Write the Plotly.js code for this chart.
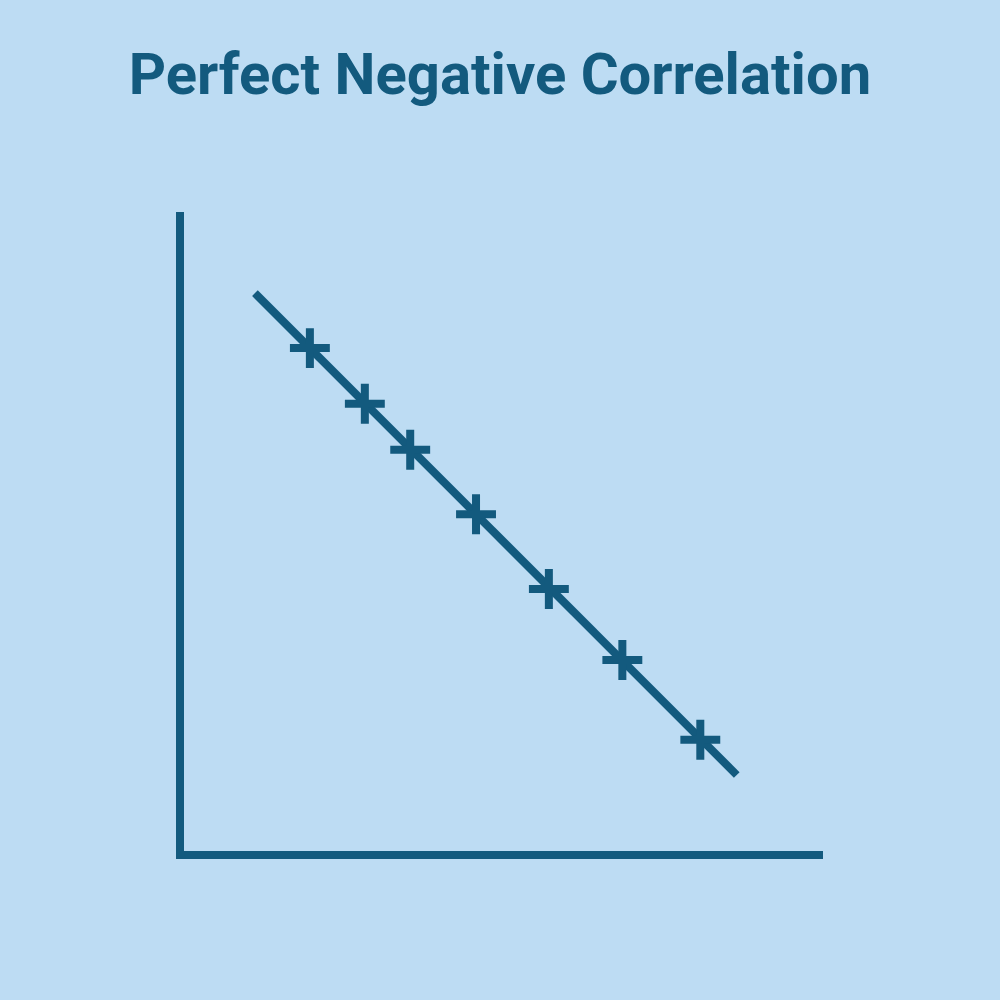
<!DOCTYPE html>
<html>
<head>
<meta charset="utf-8">
<script src="https://cdn.plot.ly/plotly-3.0.1.min.js"></script>
<style>html,body{margin:0;padding:0;background:#bddcf3;}#chart{width:1000px;height:1000px;}</style>
</head>
<body>
<div id="chart"></div>
<script>
// Trend line end points
const lineX = [1.11, 8.65];
const lineY = [8.73, 1.19];
// Observed points
const pointX = [1.97, 2.83, 3.54, 4.57, 5.71, 6.86, 8.08];
const pointY = [7.87, 7.00, 6.28, 5.27, 4.10, 2.99, 1.74];

const titleText = 'Perfect Negative Correlation';
const ink = '#135a7e';
const bg = '#bddcf3';

const traces = [
  {
    x: lineX, y: lineY, type: 'scatter', mode: 'lines',
    line: {color: ink, width: 8}, hoverinfo: 'skip', showlegend: false
  },
  {
    x: pointX, y: pointY, type: 'scatter', mode: 'markers',
    marker: {symbol: 'cross-thin', size: 28.5, color: ink, line: {color: ink, width: 8}},
    showlegend: false
  }
];

const layout = {
  width: 1000, height: 1000,
  paper_bgcolor: bg, plot_bgcolor: bg,
  margin: {l: 184, r: 177, t: 212, b: 149, pad: 0},
  title: {
    text: '<b>' + titleText + '</b>',
    x: 0.5, xanchor: 'center', y: 0.926, yanchor: 'middle', yref: 'container',
    font: {family: '"Roboto", sans-serif', size: 58, color: ink}
  },
  xaxis: {
    range: [0, 10], showgrid: false, zeroline: false, showticklabels: false, ticks: '',
    showline: true, linecolor: ink, linewidth: 8, mirror: false, fixedrange: true
  },
  yaxis: {
    range: [0, 10], showgrid: false, zeroline: false, showticklabels: false, ticks: '',
    showline: true, linecolor: ink, linewidth: 8, mirror: false, fixedrange: true
  }
};

Plotly.newPlot('chart', traces, layout, {staticPlot: true, displayModeBar: false});
</script>
</body>
</html>
